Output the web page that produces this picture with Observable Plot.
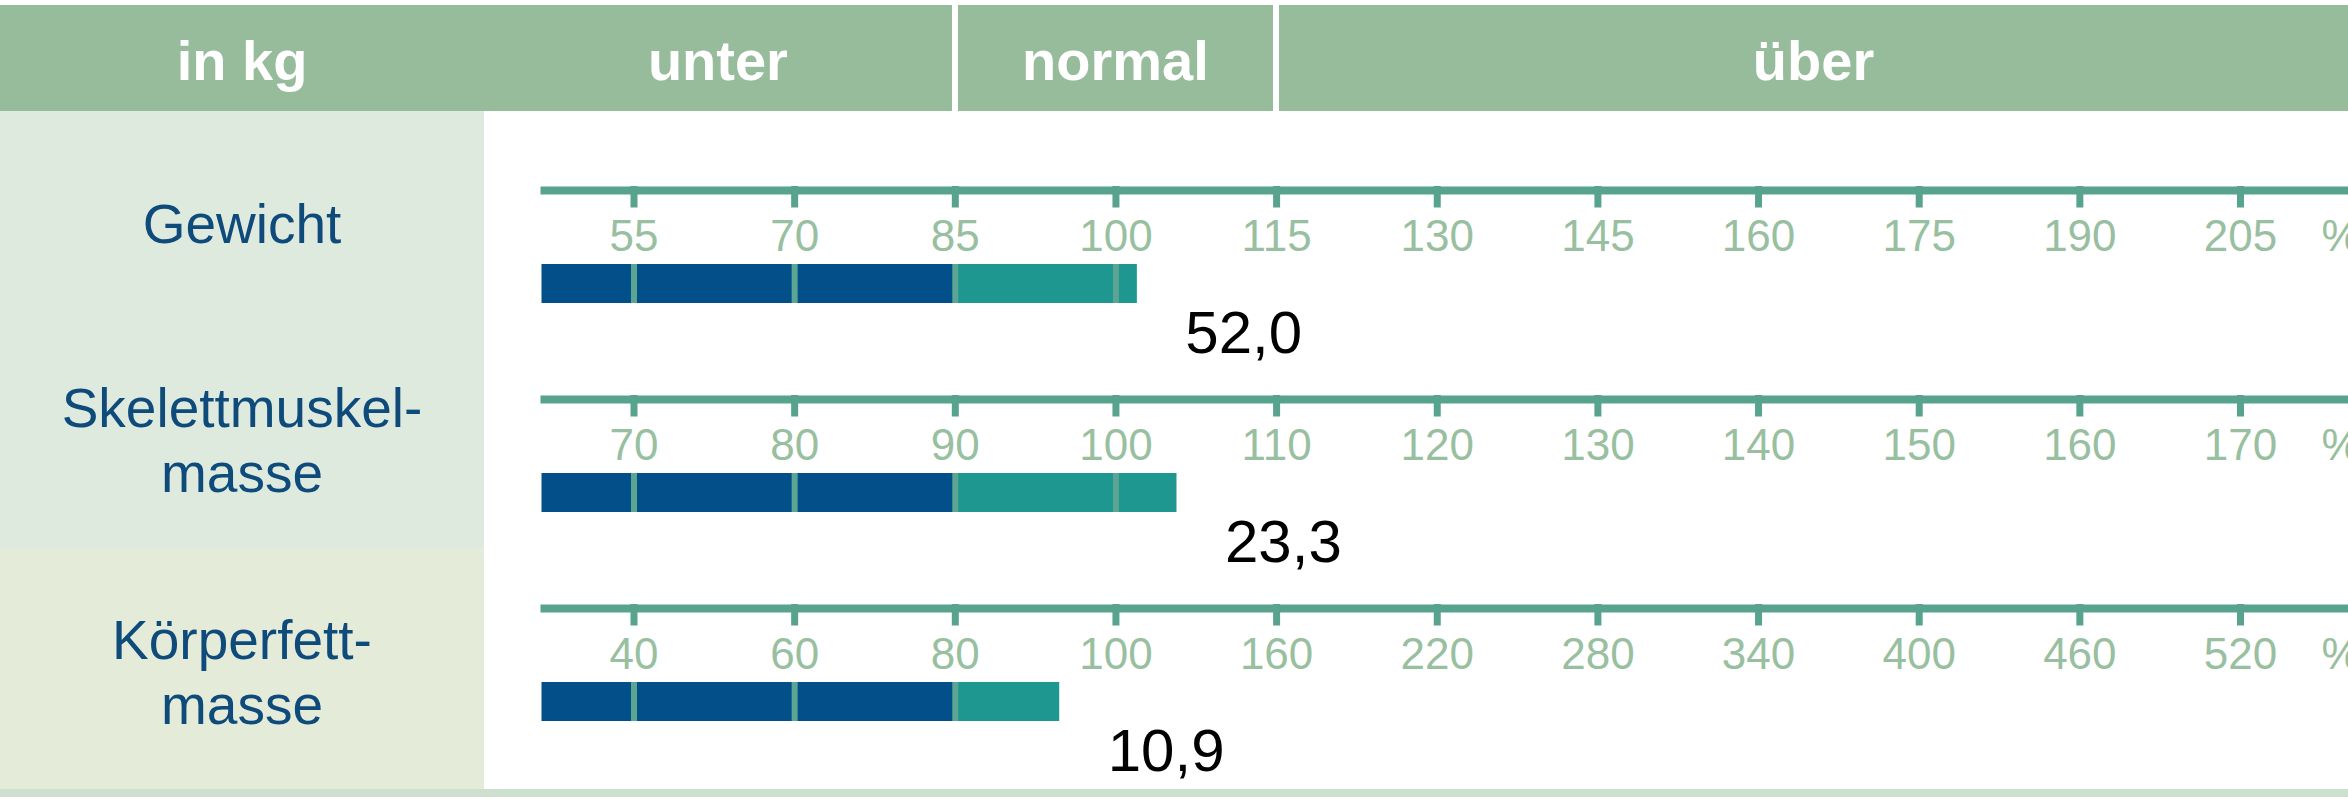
<!DOCTYPE html>
<html>
<head>
<meta charset="utf-8">
<script src="https://cdn.jsdelivr.net/npm/d3@7"></script>
<script src="https://cdn.jsdelivr.net/npm/@observablehq/plot@0.6"></script>
<style>
  html, body { margin: 0; padding: 0; background: #fff; }
  #chart { position: relative; width: 2348px; height: 802px; overflow: hidden; background: #fff;
           font-family: "Liberation Sans", Arial, Helvetica, sans-serif; }
  .abs { position: absolute; }
  .hdr { position: absolute; top: 5px; height: 106px; line-height: 106px; padding-top: 3px; box-sizing: border-box;
         color: #fff; font-weight: bold; font-size: 56px; text-align: center; white-space: nowrap; }
  .lbl { position: absolute; left: 0; width: 484px; text-align: center; color: #0e4b7b; font-size: 55px;
         line-height: 65px; white-space: pre-line; }
  .row { position: absolute; left: 0; }
</style>
</head>
<body>
<div id="chart"></div>
<script>
// ---------- data ----------
const headerLabels = ["in kg", "unter", "normal", "über"];
const rowLabels = ["Gewicht", "Skelettmuskel-\nmasse", "Körperfett-\nmasse"];
const gewichtTicks = [55, 70, 85, 100, 115, 130, 145, 160, 175, 190, 205];
const skelettTicks = [70, 80, 90, 100, 110, 120, 130, 140, 150, 160, 170];
const fettTicks = [40, 60, 80, 100, 160, 220, 280, 340, 400, 460, 520];
const percentValues = [102.0, 103.8, 93.0];     // bar end in % of normal
const kgLabels = ["52,0", "23,3", "10,9"];       // value printed next to bar
const normalLow = [85, 90, 80];
const normalHigh = [115, 110, 160];
const unitLabel = "%";

// ---------- layout / style ----------
const W = 2348;
const FRAME_LEFT = 540;          // axis start
const TICK_FIRST = 633.5, TICK_LAST = 2240;
const AXIS_CENTERS = [189.5, 399, 608];
const C = {
  header: "#97bc9b", panelA: "#dfeadf", panelB: "#e5ebd9", bottom: "#cde0cf",
  axis: "#57a38d", tickText: "#98c0a0", dark: "#034f8a", teal: "#1e9791", inBar: "#5ba592"
};
const tickSets = [gewichtTicks, skelettTicks, fettTicks];

const chart = document.getElementById("chart");
function div(cls, style, text) {
  const d = document.createElement("div");
  d.className = cls;
  Object.assign(d.style, style);
  if (text != null) d.textContent = text;
  chart.appendChild(d);
  return d;
}

function xOptions(i) {
  const ticks = tickSets[i];
  const step = (TICK_LAST - TICK_FIRST) / (ticks.length - 1);
  return {type: "linear", domain: ticks, range: ticks.map((_, k) => TICK_FIRST + k * step)};
}

// header band + dividers at the normal-range bounds (row 1 scale)
const xs0 = Plot.scale({x: xOptions(0)});
const d1 = xs0.apply(normalLow[0]), d2 = xs0.apply(normalHigh[0]);
div("abs", {left: "0px", top: "5px", width: W + "px", height: "106px", background: C.header});
div("abs", {left: (d1 - 3) + "px", top: "5px", width: "6px", height: "106px", background: "#fff"});
div("abs", {left: (d2 - 3) + "px", top: "5px", width: "6px", height: "106px", background: "#fff"});
const cells = [[0, 484], [484, d1 - 3], [d1 + 3, d2 - 3], [d2 + 3, W]];
headerLabels.forEach((t, k) => {
  div("hdr", {left: cells[k][0] + "px", width: (cells[k][1] - cells[k][0]) + "px"}, t);
});

// left panel
div("abs", {left: "0px", top: "111px", width: "484px", height: "438px", background: C.panelA});
div("abs", {left: "0px", top: "549px", width: "484px", height: "240px", background: C.panelB});
div("abs", {left: "0px", top: "789px", width: W + "px", height: "8px", background: C.bottom});
const labelTops = [192, 376, 608];
rowLabels.forEach((t, k) => div("lbl", {top: labelTops[k] + "px"}, t));

// rows
function rowPlot(i) {
  const ticks = tickSets[i];
  const xo = xOptions(i);
  const xs = Plot.scale({x: xo});
  const base = xs.invert(FRAME_LEFT + 1.5);
  const value = percentValues[i];
  const segs = [
    {x1: base, x2: normalLow[i], zone: "unter"},
    {x1: normalLow[i], x2: value, zone: "normal"}
  ];
  const inBar = ticks.filter(t => t < value);
  return Plot.plot({
    width: W, height: 260,
    marginLeft: FRAME_LEFT, marginRight: 0, marginTop: 74, marginBottom: 69,
    x: {...xo, axis: null},
    color: {type: "ordinal", domain: ["unter", "normal"], range: [C.dark, C.teal]},
    style: {background: "transparent", overflow: "visible", fontFamily: "'Liberation Sans', Arial, sans-serif"},
    marks: [
      Plot.frame({fill: C.axis, stroke: "none", insetBottom: 109}),
      Plot.ruleX(ticks, {x: d => d, stroke: C.axis, strokeWidth: 7, insetBottom: 95.5}),
      Plot.text(ticks, {x: d => d, text: d => String(d), frameAnchor: "top", dy: 64.5,
                        lineAnchor: "bottom", fontSize: 44, fill: C.tickText}),
      Plot.text([unitLabel], {frameAnchor: "top-right", textAnchor: "start", dx: -27, dy: 64.5,
                              lineAnchor: "bottom", fontSize: 44, fill: C.tickText}),
      Plot.barX(segs, {x1: "x1", x2: "x2", fill: "zone", insetTop: 78}),
      Plot.ruleX(inBar, {x: d => d, stroke: C.inBar, strokeWidth: 6, insetTop: 78}),
      Plot.text([{v: value, t: kgLabels[i]}], {x: "v", text: "t", frameAnchor: "top", textAnchor: "start",
                              dx: 48, dy: 166, lineAnchor: "bottom", fontSize: 60, fill: "#000"})
    ]
  });
}

tickSets.forEach((_, i) => {
  const wrap = div("row", {top: (AXIS_CENTERS[i] - 78) + "px", width: W + "px", height: "260px"});
  wrap.appendChild(rowPlot(i));
});
</script>
</body>
</html>
